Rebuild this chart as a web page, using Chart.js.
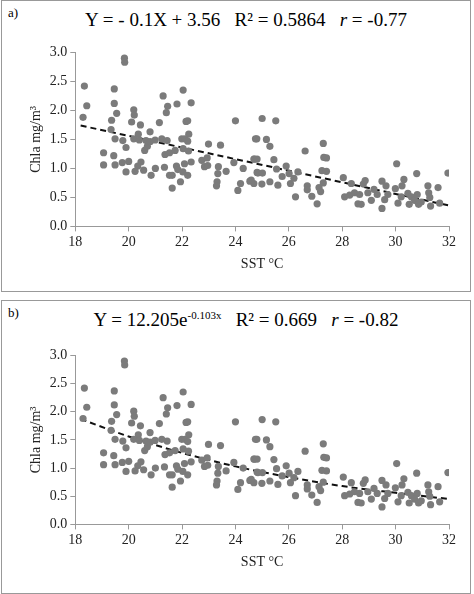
<!DOCTYPE html>
<html><head><meta charset="utf-8">
<script src="https://cdn.jsdelivr.net/npm/chart.js@4"></script>
<style>
body{margin:0;background:#fff;font-family:"Liberation Serif",serif;}
.panel{position:absolute;left:1px;width:470px;border:1px solid #999;box-sizing:border-box;}
.lab{position:absolute;left:6px;top:4px;font-size:13px;}
.eq{position:absolute;left:0;width:100%;text-align:center;font-size:19px;top:8px;padding-left:20px;box-sizing:border-box;}
.cv{position:absolute;left:0;width:468px;}
</style></head><body>
<div class="panel" style="top:0;height:292px">
 <div class="lab">a)</div>
 <div class="eq">Y = - 0.1X + 3.56&nbsp;&nbsp; R² = 0.5864&nbsp;&nbsp; <i>r</i> = -0.77</div>
 <div class="cv" style="top:40px;height:234px"><canvas id="ca"></canvas></div>
</div>
<div class="panel" style="top:300px;height:294px">
 <div class="lab">b)</div>
 <div class="eq">Y = 12.205e<sup style="font-size:11px">-0.103x</sup>&nbsp;&nbsp; R² = 0.669&nbsp;&nbsp; <i>r</i> = -0.82</div>
 <div class="cv" style="top:43px;height:229px"><canvas id="cb"></canvas></div>
</div>
<script>
// SST (°C) and Chla (mg/m3) samples
const sst = [18.34,18.43,18.29,19.84,19.85,19.46,19.46,19.55,19.36,19.34,19.49,19.78,19.9,19.06,19.44,19.06,19.49,19.76,20,19.9,
20.19,20.21,20.11,20.44,20.36,20.19,20.4,20.65,20.8,20.6,20.7,20.8,20.99,20.46,20.34,20.24,20.56,20.84,21,21.15,
21.29,21.46,21.41,21.24,21.44,21.36,21.53,21.74,21.34,21.53,21.63,21.63,21.81,21.79,21.84,21.94,22.04,22.34,22.15,22.21,
22.25,21.99,22.11,22.21,22.04,22.24,22.09,22.34,22.21,22.03,22.99,22.74,22.94,22.84,22.96,23.44,23.36,23.34,23.31,23.29,
23.65,24.0,23.94,24.29,24.09,24.19,24.54,24.69,24.71,24.81,24.75,25.0,25.51,24.8,25.16,25.29,25.44,24.69,24.81,24.59,
24.99,24.84,25.01,25.29,25.54,25.59,25.75,25.9,26.01,26.06,26.19,26.34,26.25,26.61,26.69,26.69,26.86,27.06,27.13,27.19,
27.29,27.31,27.41,27.24,27.41,27.29,28.04,28.09,28.34,28.28,28.46,28.59,28.71,28.65,28.79,28.86,28.96,29.09,29.19,29.31,
29.49,29.49,29.59,29.64,29.71,30.04,29.99,30.09,30.21,30.24,30.31,30.46,30.51,30.59,30.71,30.79,30.81,30.86,30.96,31.21,
31.24,31.28,31.31,31.59,31.65,31.96];
const chla = [2.42,2.08,1.88,2.90,2.83,2.37,2.12,1.95,1.83,1.67,1.51,1.48,1.36,1.27,1.22,1.06,1.06,1.10,1.12,0.94,
2.01,1.92,1.80,1.75,1.59,1.51,1.49,1.48,1.63,1.31,1.38,1.46,1.49,1.11,1.04,0.95,0.97,0.88,1.0,1.79,
2.25,2.07,1.96,1.51,1.48,1.24,1.27,1.31,1.02,0.88,0.88,0.66,2.11,1.04,0.98,0.77,2.35,2.13,1.81,1.82,
1.59,1.51,1.51,1.47,1.34,1.30,1.08,1.11,0.88,0.94,1.42,1.14,1.18,1.03,1.05,1.40,1.03,0.91,0.77,0.70,
0.95,1.82,1.10,1.0,0.62,0.74,0.78,0.74,1.16,0.93,1.51,1.86,1.82,1.51,1.50,1.38,1.15,1.16,1.16,0.80,
0.73,0.92,0.92,0.77,0.99,0.71,0.86,1.04,0.91,0.74,0.83,0.94,0.51,1.30,0.70,0.63,0.52,0.39,0.67,0.60,
1.43,1.19,1.18,0.96,0.95,0.75,0.84,0.51,0.74,0.54,0.58,0.39,0.38,0.55,0.73,0.79,0.58,0.45,0.64,0.55,
0.78,0.31,0.46,0.70,0.55,1.08,0.65,0.40,0.51,0.70,0.81,0.57,0.38,0.51,0.45,0.91,0.55,0.38,0.42,0.70,
0.58,0.50,0.35,0.67,0.40,0.92];
// trend lines
const linX = [18.2, 32];
const linY = [1.74, 0.36];
const expX = [18.2, 20, 22, 24, 26, 28, 30, 32];
const expY = [1.87, 1.56, 1.27, 1.03, 0.84, 0.68, 0.56, 0.45];
const xTicks = [18, 20, 22, 24, 26, 28, 30, 32];
const yTicks = [0, 0.5, 1, 1.5, 2, 2.5, 3];

const pts = sst.map((x, k) => ({x: x, y: chla[k]}));
const font = {family: "'Liberation Serif', 'Times New Roman', serif", size: 14};

function makeChart(id, lx, ly) {
    new Chart(document.getElementById(id), {
        type: 'scatter',
        data: {
            datasets: [
                {data: pts, backgroundColor: '#7b7b7b', borderWidth: 0, pointRadius: 3.6},
                {type: 'line', data: lx.map((x, k) => ({x: x, y: ly[k]})), borderColor: '#111', borderWidth: 2,
                 borderDash: [6, 4], pointRadius: 0, fill: false, tension: 0.4, cubicInterpolationMode: 'monotone'}
            ]
        },
        options: {
            responsive: true, maintainAspectRatio: false, animation: false,
            layout: {padding: {left: 24, right: 21, top: 4, bottom: 0}},
            plugins: {legend: {display: false}, tooltip: {enabled: false}},
            scales: {
                x: {
                    type: 'linear', min: 18, max: 32,
                    afterBuildTicks: a => { a.ticks = xTicks.map(v => ({value: v})); },
                    grid: {drawOnChartArea: false, tickLength: 5, color: '#999'},
                    border: {color: '#999'},
                    ticks: {font: font, color: '#222', maxRotation: 0},
                    title: {display: true, text: 'SST °C', font: font, color: '#222', padding: 2}
                },
                y: {
                    min: 0, max: 3,
                    afterBuildTicks: a => { a.ticks = yTicks.map(v => ({value: v})); },
                    grid: {drawOnChartArea: false, tickLength: 5, color: '#999'},
                    border: {color: '#999'},
                    ticks: {font: font, color: '#222', callback: v => v.toFixed(1)},
                    title: {display: true, text: 'Chla mg/m³', font: font, color: '#222', padding: 2}
                }
            }
        }
    });
}
makeChart('ca', linX, linY);
makeChart('cb', expX, expY);
</script>
</body></html>
